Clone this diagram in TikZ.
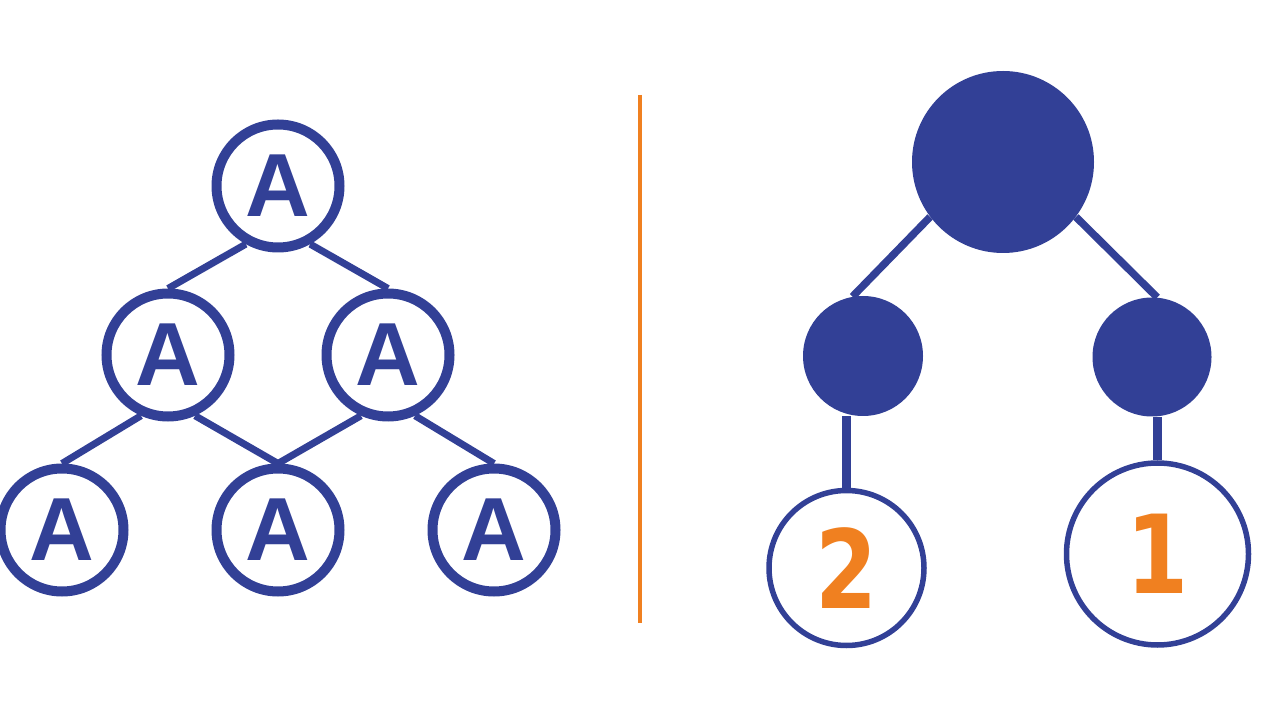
\documentclass[tikz,border=0pt]{standalone}
\usepackage{fontspec}
\setmainfont{Liberation Sans}
\newfontfamily\digitfont[FakeStretch=0.82]{DejaVu Sans}
\usetikzlibrary{positioning}
\definecolor{navy}{RGB}{50,64,150}
\definecolor{tangerine}{RGB}{240,128,32}

\begin{document}
\begin{tikzpicture}[on grid,
    letter/.style={circle, draw=navy, line width=0.2cm, minimum size=2.46cm, inner sep=0pt,
        text=navy, font=\fontsize{51}{51}\selectfont\bfseries},
    blob/.style={circle, fill=navy, inner sep=0pt},
    slot/.style={circle, draw=navy, line width=0.11cm, inner sep=0pt,
        text=tangerine, font=\digitfont\fontsize{62}{62}\selectfont\bfseries},
    link/.style={draw=navy, line width=0.14cm}]
    \useasboundingbox (0,0) rectangle (25.6,14.4);

    % left tree
    \node[letter] (T) at (5.56,10.68) {A};
    \node[letter, below left=3.38cm and 2.2cm of T] (ML) {A};
    \node[letter, below right=3.38cm and 2.2cm of T] (MR) {A};
    \node[letter, below left=3.5cm and 2.12cm of ML] (BL) {A};
    \node[letter, below right=3.5cm and 2.2cm of ML] (BM) {A};
    \node[letter, below right=3.5cm and 2.12cm of MR] (BR) {A};

    \path[link]
    (T.241) edge (ML.north)
    (T.299) edge (MR.north)
    (ML.246) edge (BL.north)
    (ML.294) edge (BM.north)
    (MR.246) edge (BM.north)
    (MR.294) edge (BR.north);

    % divider
    \coordinate (top) at (12.8,12.5);
    \coordinate (bot) at (12.8,1.94);
    \draw[tangerine, line width=0.08cm] (top) -- (bot);

    % right tree
    \node[blob, minimum size=3.64cm] (R) at (20.06,11.16) {};
    \node[blob, minimum size=2.4cm, below left=3.88cm and 2.8cm of R] (SL) {};
    \node[blob, minimum size=2.38cm, below right=3.9cm and 2.98cm of R] (SR) {};
    \node[slot, minimum size=3.1cm, below left=4.24cm and 0.33cm of SL] (H2) {2};
    \node[slot, minimum size=3.64cm, below right=3.94cm and 0.11cm of SR] (H1) {1};

    \path[link, line width=0.15cm]
    (R.217) edge (SL.100)
    (R.323) edge (SR.85);
    \draw[link, line width=0.17cm] (H2.north) -- (H2.north |- SL.south);
    \draw[link, line width=0.17cm] (H1.north) -- (H1.north |- SR.south);
\end{tikzpicture}
\end{document}
